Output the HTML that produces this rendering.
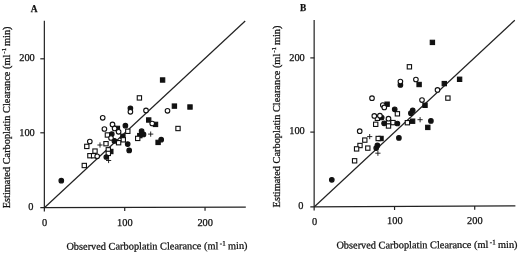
<!DOCTYPE html>
<html><head><meta charset="utf-8"><title>Carboplatin clearance</title>
<style>
html,body{margin:0;padding:0;background:#fff;}
svg{display:block}
</style></head>
<body>
<svg width="520" height="253" viewBox="0 0 520 253">
<rect width="520" height="253" fill="#fff"/>
<g stroke="#222" stroke-width="1.2" fill="none">
<line x1="44.35" y1="20.7" x2="44.35" y2="211.5"/>
<line x1="40.3" y1="207.72" x2="245.79999999999998" y2="207.05"/>
<line x1="124.72" y1="207.44" x2="124.72" y2="211.04"/>
<line x1="40.3" y1="132.80" x2="44.4" y2="132.80"/>
<line x1="205.04" y1="207.18" x2="205.04" y2="210.78"/>
<line x1="40.3" y1="58.80" x2="44.4" y2="58.80"/>
<line x1="44.4" y1="207.7" x2="245.2" y2="21.0"/>
</g>
<g stroke="#111" stroke-width="1.1">
<rect x="160.45" y="77.85" width="4.3" height="4.3" fill="#111"/>
<rect x="172.25" y="103.95" width="4.3" height="4.3" fill="#111"/>
<rect x="187.85" y="104.85" width="4.3" height="4.3" fill="#111"/>
<rect x="146.55" y="117.85" width="4.3" height="4.3" fill="#111"/>
<rect x="153.35" y="122.25" width="4.3" height="4.3" fill="#111"/>
<rect x="155.95" y="140.25" width="4.3" height="4.3" fill="#111"/>
<rect x="115.25" y="126.25" width="4.3" height="4.3" fill="#111"/>
<rect x="120.75" y="134.15" width="4.3" height="4.3" fill="#111"/>
<rect x="108.65" y="149.35" width="4.3" height="4.3" fill="#111"/>
<rect x="137.65" y="133.45" width="4.3" height="4.3" fill="#111"/>
<rect x="105.25" y="132.85" width="4.3" height="4.3" fill="#fff"/>
<rect x="125.65" y="129.15" width="4.3" height="4.3" fill="#fff"/>
<rect x="135.55" y="136.25" width="4.3" height="4.3" fill="#fff"/>
<rect x="121.15" y="137.65" width="4.3" height="4.3" fill="#fff"/>
<rect x="116.45" y="140.55" width="4.3" height="4.3" fill="#fff"/>
<rect x="103.85" y="141.55" width="4.3" height="4.3" fill="#fff"/>
<rect x="106.15" y="147.65" width="4.3" height="4.3" fill="#fff"/>
<rect x="106.15" y="151.25" width="4.3" height="4.3" fill="#fff"/>
<rect x="92.85" y="148.95" width="4.3" height="4.3" fill="#fff"/>
<rect x="84.65" y="144.25" width="4.3" height="4.3" fill="#fff"/>
<rect x="87.75" y="153.55" width="4.3" height="4.3" fill="#fff"/>
<rect x="91.45" y="153.55" width="4.3" height="4.3" fill="#fff"/>
<rect x="82.15" y="163.35" width="4.3" height="4.3" fill="#fff"/>
<rect x="137.25" y="95.75" width="4.3" height="4.3" fill="#fff"/>
<rect x="175.85" y="126.35" width="4.3" height="4.3" fill="#fff"/>
<circle cx="130.4" cy="108.3" r="2.3" fill="#111"/>
<circle cx="125.4" cy="125.7" r="2.3" fill="#111"/>
<circle cx="111.8" cy="134.0" r="2.3" fill="#111"/>
<circle cx="114.4" cy="140.9" r="2.3" fill="#111"/>
<circle cx="127.7" cy="144.1" r="2.3" fill="#111"/>
<circle cx="129.2" cy="150.4" r="2.3" fill="#111"/>
<circle cx="106.3" cy="157.0" r="2.3" fill="#111"/>
<circle cx="141.6" cy="131.2" r="2.3" fill="#111"/>
<circle cx="143.5" cy="134.4" r="2.3" fill="#111"/>
<circle cx="161.2" cy="139.7" r="2.3" fill="#111"/>
<circle cx="61.3" cy="180.7" r="2.3" fill="#111"/>
<circle cx="102.7" cy="117.8" r="2.3" fill="#fff"/>
<circle cx="130.4" cy="111.8" r="2.3" fill="#fff"/>
<circle cx="112.5" cy="124.4" r="2.3" fill="#fff"/>
<circle cx="104.4" cy="129.0" r="2.3" fill="#fff"/>
<circle cx="114.6" cy="128.4" r="2.3" fill="#fff"/>
<circle cx="118.6" cy="131.8" r="2.3" fill="#fff"/>
<circle cx="111.0" cy="138.0" r="2.3" fill="#fff"/>
<circle cx="89.8" cy="141.5" r="2.3" fill="#fff"/>
<circle cx="146.0" cy="110.4" r="2.3" fill="#fff"/>
<circle cx="167.5" cy="110.8" r="2.3" fill="#fff"/>
<circle cx="152.2" cy="123.5" r="2.3" fill="#fff"/>
<circle cx="97.2" cy="156.3" r="2.3" fill="#fff"/>
<path d="M97.4 145.0h5.2M100.0 142.4v5.2" fill="none" stroke-width="0.9"/>
<path d="M106.0 160.5h5.2M108.6 157.9v5.2" fill="none" stroke-width="0.9"/>
<path d="M148.1 134.1h5.2M150.7 131.5v5.2" fill="none" stroke-width="0.9"/>
</g>
<g font-family="'Liberation Serif', 'Times New Roman', serif" font-size="10.4" fill="#111" stroke="#111" stroke-width="0.25">
<text x="44.6" y="225.90" text-anchor="middle">0</text>
<text x="33.4" y="210.4" text-anchor="end">0</text>
<text x="124.9" y="225.74" text-anchor="middle">100</text>
<text x="34.8" y="135.7" text-anchor="end">100</text>
<text x="205.2" y="225.59" text-anchor="middle">200</text>
<text x="34.8" y="61.0" text-anchor="end">200</text>
<text x="34.1" y="11.5" font-weight="bold" font-size="9.4" text-anchor="middle">A</text>
<text transform="translate(66.4 249.8) rotate(-0.23)" font-size="10.35">Observed Carboplatin Clearance (ml<tspan font-size="7" dy="-3.4" dx="1.5">-1</tspan><tspan dy="3.4" dx="-0.3"> min)</tspan></text>
<text transform="translate(9.8 208.3) rotate(-90)" font-size="10.35">Estimated Carboplatin Clearance (ml<tspan font-size="7" dy="-3.4" dx="1.0">-1</tspan><tspan dy="3.4" dx="-0.8"> min)</tspan></text>
</g>
<g stroke="#222" stroke-width="1.2" fill="none">
<line x1="314.15" y1="19.9" x2="314.15" y2="210.60000000000002"/>
<line x1="310.29999999999995" y1="206.82000000000002" x2="515.4" y2="205.85"/>
<line x1="394.56" y1="206.42" x2="394.56" y2="210.02"/>
<line x1="310.29999999999995" y1="132.10" x2="314.4" y2="132.10"/>
<line x1="474.72" y1="206.04" x2="474.72" y2="209.64"/>
<line x1="310.29999999999995" y1="57.90" x2="314.4" y2="57.90"/>
<line x1="314.4" y1="206.8" x2="514.8" y2="20.2"/>
</g>
<g stroke="#111" stroke-width="1.1">
<rect x="378.85" y="136.35" width="4.3" height="4.3" fill="#111"/>
<rect x="384.95" y="102.05" width="4.3" height="4.3" fill="#111"/>
<rect x="410.45" y="119.05" width="4.3" height="4.3" fill="#111"/>
<rect x="430.25" y="40.25" width="4.3" height="4.3" fill="#111"/>
<rect x="416.95" y="82.35" width="4.3" height="4.3" fill="#111"/>
<rect x="442.15" y="81.45" width="4.3" height="4.3" fill="#111"/>
<rect x="457.45" y="77.15" width="4.3" height="4.3" fill="#111"/>
<rect x="422.85" y="103.15" width="4.3" height="4.3" fill="#111"/>
<rect x="425.65" y="125.25" width="4.3" height="4.3" fill="#111"/>
<rect x="362.65" y="137.95" width="4.3" height="4.3" fill="#fff"/>
<rect x="376.05" y="136.35" width="4.3" height="4.3" fill="#fff"/>
<rect x="357.85" y="143.35" width="4.3" height="4.3" fill="#fff"/>
<rect x="354.45" y="146.75" width="4.3" height="4.3" fill="#fff"/>
<rect x="365.65" y="145.95" width="4.3" height="4.3" fill="#fff"/>
<rect x="352.45" y="158.65" width="4.3" height="4.3" fill="#fff"/>
<rect x="375.25" y="116.15" width="4.3" height="4.3" fill="#fff"/>
<rect x="373.55" y="122.15" width="4.3" height="4.3" fill="#fff"/>
<rect x="386.35" y="119.85" width="4.3" height="4.3" fill="#fff"/>
<rect x="390.85" y="120.45" width="4.3" height="4.3" fill="#fff"/>
<rect x="386.35" y="123.85" width="4.3" height="4.3" fill="#fff"/>
<rect x="395.25" y="111.65" width="4.3" height="4.3" fill="#fff"/>
<rect x="405.25" y="120.55" width="4.3" height="4.3" fill="#fff"/>
<rect x="407.25" y="64.65" width="4.3" height="4.3" fill="#fff"/>
<rect x="445.75" y="95.95" width="4.3" height="4.3" fill="#fff"/>
<circle cx="377.4" cy="145.4" r="2.3" fill="#111"/>
<circle cx="376.2" cy="148.1" r="2.3" fill="#111"/>
<circle cx="394.7" cy="109.3" r="2.3" fill="#111"/>
<circle cx="381.7" cy="117.5" r="2.3" fill="#111"/>
<circle cx="384.1" cy="123.3" r="2.3" fill="#111"/>
<circle cx="397.4" cy="123.5" r="2.3" fill="#111"/>
<circle cx="398.9" cy="137.9" r="2.3" fill="#111"/>
<circle cx="400.4" cy="84.9" r="2.3" fill="#111"/>
<circle cx="412.7" cy="110.4" r="2.3" fill="#111"/>
<circle cx="410.9" cy="113.2" r="2.3" fill="#111"/>
<circle cx="430.9" cy="120.9" r="2.3" fill="#111"/>
<circle cx="331.8" cy="179.8" r="2.3" fill="#111"/>
<circle cx="359.7" cy="131.2" r="2.3" fill="#fff"/>
<circle cx="372.0" cy="98.2" r="2.3" fill="#fff"/>
<circle cx="382.8" cy="105.0" r="2.3" fill="#fff"/>
<circle cx="384.3" cy="107.4" r="2.3" fill="#fff"/>
<circle cx="374.3" cy="115.9" r="2.3" fill="#fff"/>
<circle cx="379.9" cy="115.7" r="2.3" fill="#fff"/>
<circle cx="388.5" cy="118.7" r="2.3" fill="#fff"/>
<circle cx="400.4" cy="81.6" r="2.3" fill="#fff"/>
<circle cx="415.9" cy="79.5" r="2.3" fill="#fff"/>
<circle cx="422.0" cy="100.1" r="2.3" fill="#fff"/>
<circle cx="437.5" cy="89.9" r="2.3" fill="#fff"/>
<path d="M367.1 136.6h5.2M369.7 134.0v5.2" fill="none" stroke-width="0.9"/>
<path d="M375.3 153.2h5.2M377.9 150.6v5.2" fill="none" stroke-width="0.9"/>
<path d="M417.5 119.7h5.2M420.1 117.1v5.2" fill="none" stroke-width="0.9"/>
</g>
<g font-family="'Liberation Serif', 'Times New Roman', serif" font-size="10.4" fill="#111" stroke="#111" stroke-width="0.25">
<text x="314.6" y="224.70" text-anchor="middle">0</text>
<text x="303.4" y="209.0" text-anchor="end">0</text>
<text x="394.8" y="224.47" text-anchor="middle">100</text>
<text x="304.8" y="134.4" text-anchor="end">100</text>
<text x="474.9" y="224.24" text-anchor="middle">200</text>
<text x="304.8" y="60.5" text-anchor="end">200</text>
<text x="303.2" y="10.8" font-weight="bold" font-size="9.4" text-anchor="middle">B</text>
<text transform="translate(336.4 248.6) rotate(-0.23)" font-size="10.35">Observed Carboplatin Clearance (ml<tspan font-size="7" dy="-3.4" dx="1.5">-1</tspan><tspan dy="3.4" dx="-0.3"> min)</tspan></text>
<text transform="translate(279.8 207.4) rotate(-90)" font-size="10.35">Estimated Carboplatin Clearance (ml<tspan font-size="7" dy="-3.4" dx="1.0">-1</tspan><tspan dy="3.4" dx="-0.8"> min)</tspan></text>
</g>
</svg>
</body></html>
